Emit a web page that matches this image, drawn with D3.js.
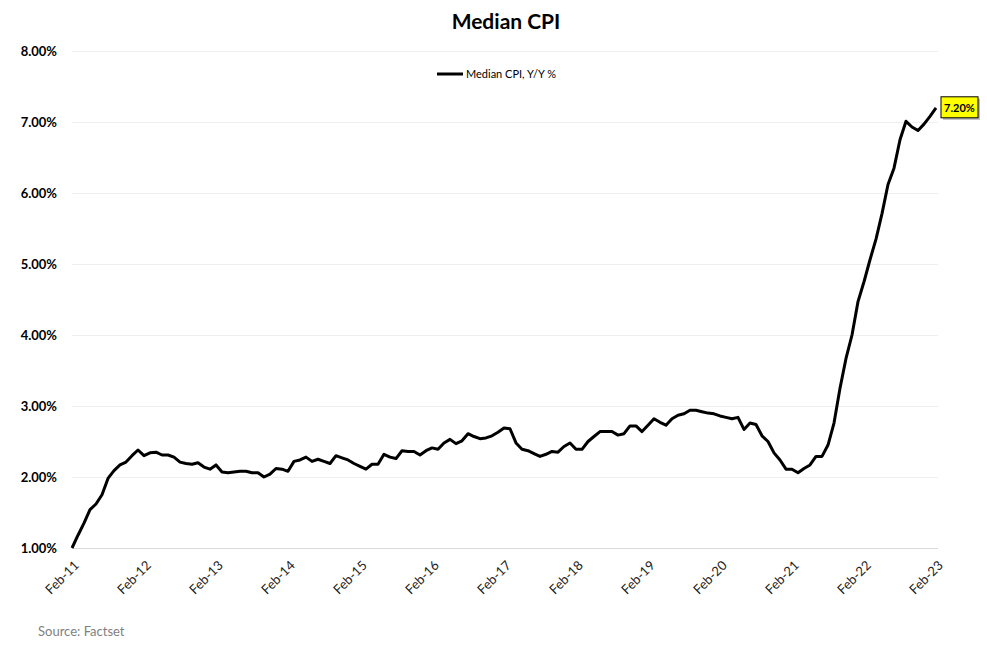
<!DOCTYPE html>
<html>
<head>
<meta charset="utf-8">
<script src="https://cdn.jsdelivr.net/npm/d3@7"></script>
<style>
  body { margin: 0; background: #fff; }
  svg { font-family: Lato, "Open Sans", sans-serif; }
</style>
</head>
<body>
<div id="chartDiv"></div>
<script>
// Median CPI, Y/Y %, monthly Feb-11 .. Feb-23
var startYear = 2011, startMonth = 1; // Feb
var cpiValues = [
  1.00, 1.18, 1.35, 1.54, 1.62, 1.75, 1.98, 2.09, 2.17, 2.21, 2.30, 2.38,
  2.30, 2.34, 2.35, 2.31, 2.31, 2.28, 2.21, 2.19, 2.18, 2.20, 2.14, 2.11,
  2.17, 2.07, 2.06, 2.07, 2.08, 2.08, 2.06, 2.06, 2.00, 2.04, 2.12, 2.11,
  2.08, 2.22, 2.24, 2.28, 2.22, 2.25, 2.22, 2.19, 2.30, 2.27, 2.24, 2.19,
  2.15, 2.11, 2.18, 2.18, 2.32, 2.28, 2.26, 2.37, 2.36, 2.36, 2.31, 2.37,
  2.41, 2.39, 2.48, 2.53, 2.47, 2.51, 2.61, 2.57, 2.54, 2.55, 2.58, 2.63,
  2.69, 2.68, 2.48, 2.39, 2.37, 2.33, 2.29, 2.32, 2.36, 2.35, 2.43, 2.48,
  2.39, 2.39, 2.50, 2.57, 2.64, 2.64, 2.64, 2.59, 2.61, 2.72, 2.72, 2.64,
  2.73, 2.82, 2.77, 2.73, 2.82, 2.87, 2.89, 2.94, 2.94, 2.92, 2.90, 2.89,
  2.86, 2.84, 2.82, 2.84, 2.67, 2.76, 2.74, 2.58, 2.50, 2.34, 2.24, 2.11,
  2.11, 2.06, 2.12, 2.17, 2.29, 2.29, 2.45, 2.76, 3.25, 3.67, 4.00, 4.47,
  4.75, 5.06, 5.35, 5.71, 6.12, 6.35, 6.75, 7.01, 6.93, 6.88, 6.97, 7.08,
  7.20
];
var yTicks = [1, 2, 3, 4, 5, 6, 7, 8];
var monthNames = ["Jan","Feb","Mar","Apr","May","Jun","Jul","Aug","Sep","Oct","Nov","Dec"];

var months = cpiValues.map(function(v, i) {
  var m = startMonth + i;
  var yr = startYear + Math.floor(m / 12);
  return monthNames[m % 12] + "-" + String(yr).slice(2);
});
var data = cpiValues.map(function(v, i) { return {label: months[i], value: v}; });
var xTickLabels = months.filter(function(d, i) { return i % 12 === 0; });

var svgW = 987, svgH = 646;
var margin = {top: 51, right: 51, bottom: 98, left: 72};

var svg = d3.select("#chartDiv").append("svg")
  .attr("width", svgW).attr("height", svgH);

var x_scale = d3.scalePoint()
  .domain(months)
  .range([margin.left, 936]);

var y_scale = d3.scaleLinear()
  .domain([1, 8])
  .range([svgH - margin.bottom, margin.top]);

// title
svg.append("text")
  .attr("x", 506).attr("y", 29)
  .attr("text-anchor", "middle")
  .style("font-size", "21px").style("font-weight", "bold")
  .text("Median CPI");

// gridlines
svg.append("g").selectAll("line").data(yTicks).enter()
  .append("line")
  .attr("x1", margin.left).attr("x2", 938)
  .attr("y1", function(d) { return y_scale(d) + 0.5; })
  .attr("y2", function(d) { return y_scale(d) + 0.5; })
  .attr("stroke", function(d) { return d === 1 ? "#d9d9d9" : "#efefef"; })
  .attr("stroke-width", 1);

// y axis labels
var yAxis = d3.axisLeft(y_scale)
  .tickValues(yTicks)
  .tickSize(0)
  .tickPadding(15)
  .tickFormat(function(d) { return d.toFixed(2) + "%"; });
var yGroup = svg.append("g").attr("transform", "translate(" + margin.left + ",0)").call(yAxis);
yGroup.select(".domain").remove();
yGroup.selectAll("text")
  .style("font-size", "13px").style("font-weight", "bold")
  .style("font-family", "Lato, 'Open Sans', sans-serif")
  .attr("fill", "#000");

// x axis labels
var xAxis = d3.axisBottom(x_scale)
  .tickValues(xTickLabels)
  .tickSize(0)
  .tickPadding(0);
var xGroup = svg.append("g").attr("transform", "translate(0," + (svgH - margin.bottom) + ")").call(xAxis);
xGroup.select(".domain").remove();
xGroup.selectAll("text")
  .style("font-size", "13px")
  .style("font-family", "Lato, 'Open Sans', sans-serif")
  .attr("fill", "#222")
  .attr("text-anchor", "end")
  .attr("dy", "0.35em")
  .attr("transform", "translate(4,15) rotate(-45)");

// line
var line = d3.line()
  .x(function(d) { return x_scale(d.label); })
  .y(function(d) { return y_scale(d.value); });

svg.append("path")
  .datum(data)
  .attr("d", line)
  .attr("fill", "none")
  .attr("stroke", "#000")
  .attr("stroke-width", 3)
  .attr("stroke-linejoin", "round");

// legend
svg.append("line")
  .attr("x1", 437).attr("x2", 463).attr("y1", 74).attr("y2", 74)
  .attr("stroke", "#000").attr("stroke-width", 3);
svg.append("text")
  .attr("x", 466).attr("y", 78)
  .style("font-size", "11px")
  .text("Median CPI, Y/Y %");

// last value label
var last = data[data.length - 1];
var lx = x_scale(last.label) + 5, ly = y_scale(last.value) - 11;
svg.append("rect")
  .attr("x", lx + 2).attr("y", ly + 2).attr("width", 37).attr("height", 21)
  .attr("fill", "#888").attr("opacity", 0.6);
svg.append("rect")
  .attr("x", lx).attr("y", ly).attr("width", 37).attr("height", 21)
  .attr("fill", "#ffff00").attr("stroke", "#000").attr("stroke-width", 1);
svg.append("text")
  .attr("x", lx + 18.5).attr("y", ly + 15)
  .attr("text-anchor", "middle")
  .style("font-size", "11px").style("font-weight", "bold")
  .text(last.value.toFixed(2) + "%");

// source
svg.append("text")
  .attr("x", 38).attr("y", 636)
  .style("font-size", "13px")
  .attr("fill", "#7f7f7f")
  .text("Source: Factset");
</script>
</body>
</html>
